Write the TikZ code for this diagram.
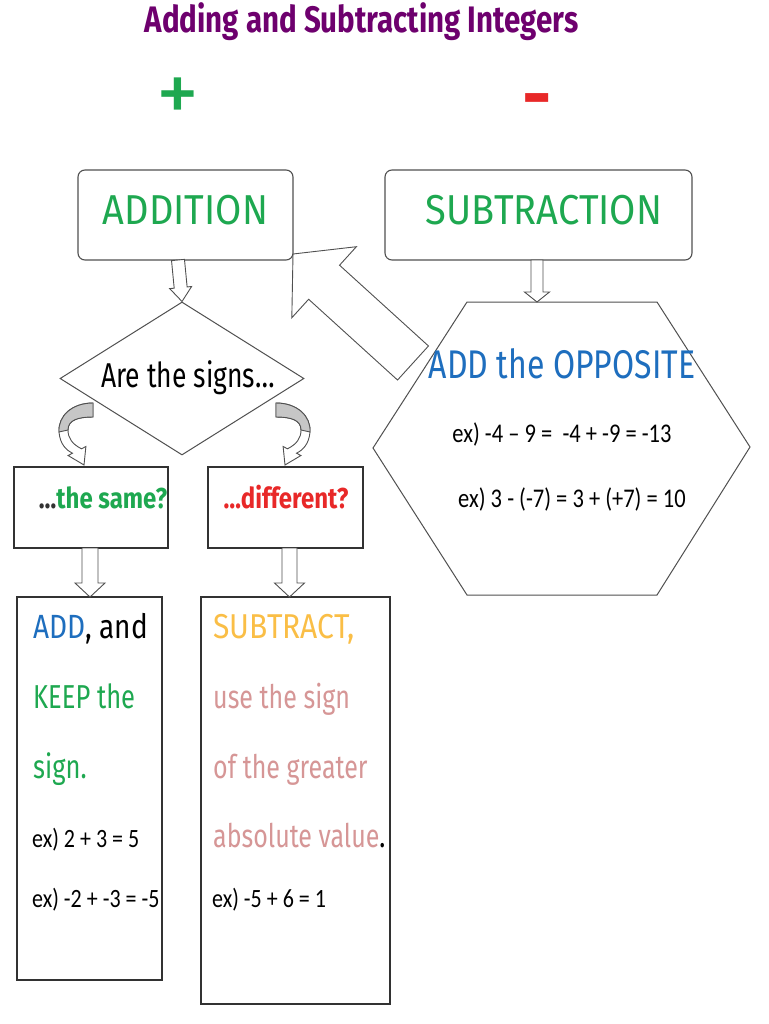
\documentclass[tikz,border=0pt]{standalone}
\usepackage{fontspec}
\usepackage{graphicx}
\setmainfont{Fira Sans}
\newfontfamily\exfont{Carlito}
\usetikzlibrary{calc,shapes.geometric}
\definecolor{ttl}{RGB}{110,0,110}
\definecolor{grn}{RGB}{30,168,80}
\definecolor{blu}{RGB}{30,110,190}
\definecolor{rd}{RGB}{232,40,40}
\definecolor{org}{RGB}{250,190,70}
\definecolor{pnk}{RGB}{214,150,150}
\definecolor{lin}{RGB}{80,80,80}
\definecolor{dk}{RGB}{50,50,50}
\newcommand\vs[2]{\scalebox{1}[#1]{#2}}
\newcommand\fs[1]{\fontsize{#1}{#1}\selectfont}
\newcommand\harrow[5]{%
  \path ($(#2)!#5!(#1)$) coordinate (hh);
  \draw[hollow] ($(#1)!#3!90:(#2)$) -- ($(hh)!#3!90:(#2)$) -- ($(hh)!#4!90:(#2)$) -- (#2)
    -- ($(hh)!#4!-90:(#2)$) -- ($(hh)!#3!-90:(#2)$) -- ($(#1)!#3!-90:(#2)$) -- cycle;}
\newcommand\curlarrow{%
  \draw[hollow] (93,403) .. controls (72,403) and (58,416) .. (59,432)
     .. controls (60,444) and (66,450) .. (72.5,453.2) -- (68.1,455.5) -- (84,465)
     -- (85.9,446.5) -- (81.5,448.8) .. controls (72,444) and (68,438) .. (68,430)
     .. controls (68,420) and (78,417) .. (93,417) -- cycle;
  \fill[gray!45,draw=lin,line width=0.9pt] (93,403) .. controls (72,403) and (58,416) .. (59,432)
     -- (68,430) .. controls (68,420) and (78,417) .. (93,417) -- cycle;}
\begin{document}
\begin{tikzpicture}[x=1pt,y=-1pt,
  rbox/.style={draw=lin,line width=1.1pt,rounded corners=7pt,inner sep=0pt,fill=white},
  sbox/.style={draw=dk,line width=1.5pt,inner sep=0pt,fill=white},
  hollow/.style={draw=lin,line width=0.9pt,fill=white},
  lbl/.style={inner sep=0pt,anchor=base},
  lblw/.style={inner sep=0pt,anchor=base west}]
\useasboundingbox (0,0) rectangle (768,1024);
\fill[white] (0,0) rectangle (768,1024);

% title and signs
\node[lbl,text=ttl,font=\fs{29.5pt}\bfseries] (title) at (361.5,33) {\vs{1.25}{Adding and Subtracting Integers}};
\node[inner sep=0pt,text=grn,font=\fs{86pt}] (plus) at (178,100) {+};
\node[inner sep=0pt,text=rd,font=\fs{72pt}\bfseries] (minus) at (537,107) {-};

% big arrow from hexagon back to addition
\coordinate (bigS) at (413,363);
\coordinate (bigE) at (293,254);
\harrow{bigS}{bigE}{23pt}{48pt}{42pt}

% boxes
\node[rbox,minimum width=215pt,minimum height=90pt] (add) at (185.5,215) {};
\node[rbox,minimum width=307pt,minimum height=90pt] (sub) at (538.5,215) {};
\node[diamond,draw=lin,line width=1pt,fill=white,inner sep=0pt,aspect=1.6,
      minimum width=244pt,minimum height=153pt] (dia) at (182,378.5) {};
\draw[draw=lin,line width=1pt,fill=white] (467,302) -- (657,302) -- (750,447) -- (657,595)
   -- (467,595) -- (373,448) -- cycle;
\coordinate (hextop) at (537,302);
\node[sbox,minimum width=154pt,minimum height=81pt] (same) at (91,507.5) {};
\node[sbox,minimum width=155pt,minimum height=81pt] (diff) at (285.5,507.5) {};
\node[sbox,minimum width=145pt,minimum height=383pt] (keep) at (89.5,788.5) {};
\node[sbox,minimum width=189pt,minimum height=407pt] (subt) at (295.5,800.5) {};

% straight hollow arrows
\coordinate (a1s) at (178,260); \coordinate (a1e) at (dia.north);
\harrow{a1s}{a1e}{6.5pt}{11pt}{14pt}
\coordinate (a2s) at (537,260); \coordinate (a2e) at (hextop);
\harrow{a2s}{a2e}{6pt}{12.5pt}{10pt}
\coordinate (a3s) at (90,548); \coordinate (a3e) at (90,597);
\harrow{a3s}{a3e}{8pt}{15pt}{14pt}
\coordinate (a4s) at (289.5,548); \coordinate (a4e) at (289.5,597);
\harrow{a4s}{a4e}{7.5pt}{15pt}{14pt}

% curled arrows
\curlarrow
\begin{scope}[xshift=369pt,xscale=-1]
\curlarrow
\end{scope}

% texts
\node[lbl,text=grn,font=\fs{38pt}] (tadd) at (185.5,225) {\vs{1.1}{ADDITION}};
\node[lbl,text=grn,font=\fs{38pt}] (tsub) at (544,225) {\vs{1.1}{SUBTRACTION}};
\node[lbl,text=black,font=\fs{26.5pt}] (tsigns) at (188,387) {\vs{1.3}{Are the signs…}};
\node[lbl,text=blu,font=\fs{32pt}] (topp) at (562,378) {\vs{1.25}{ADD the OPPOSITE}};
\node[lbl,font=\exfont\fs{22.5pt}] (ex1) at (562,442) {\vs{1.2}{ex) -4 – 9 = \ -4 + -9 = -13}};
\node[lbl,font=\exfont\fs{22.5pt}] (ex2) at (572,507) {\vs{1.2}{ex) 3 - (-7) = 3 + (+7) = 10}};
\node[lbl,font=\fs{24pt}\bfseries] (tsame) at (103,508) {\vs{1.2}{\textcolor{dk}{…}\textcolor{grn}{the same?}}};
\node[lbl,text=rd,font=\fs{24pt}\bfseries] (tdiff) at (286,508) {\vs{1.2}{…different?}};

\node[lblw,font=\fs{28pt}] (k1) at (33,638) {\vs{1.2}{\textcolor{blu}{ADD}, and}};
\node[lblw,text=grn,font=\fs{25.5pt}] (k2) at (33,708) {\vs{1.3}{KEEP the}};
\node[lblw,text=grn,font=\fs{25.5pt}] (k3) at (33,778) {\vs{1.3}{sign.}};
\node[lblw,font=\exfont\fs{22pt}] (k4) at (32,847) {\vs{1.2}{ex) 2 + 3 = 5}};
\node[lblw,font=\exfont\fs{22pt}] (k5) at (32,907) {\vs{1.2}{ex) -2 + -3 = -5}};

\node[lblw,text=org,font=\fs{30pt}] (s1) at (213,638) {\vs{1.15}{SUBTRACT,}};
\node[lblw,text=pnk,font=\fs{25pt}] (s2) at (213,708) {\vs{1.3}{use the sign}};
\node[lblw,text=pnk,font=\fs{25pt}] (s3) at (213,778) {\vs{1.3}{of the greater}};
\node[lblw,text=pnk,font=\fs{25pt}] (s4) at (213,847) {\vs{1.3}{absolute value\textcolor{black}{.}}};
\node[lblw,font=\exfont\fs{22pt}] (s5) at (212,907) {\vs{1.2}{ex) -5 + 6 = 1}};
\end{tikzpicture}
\end{document}
